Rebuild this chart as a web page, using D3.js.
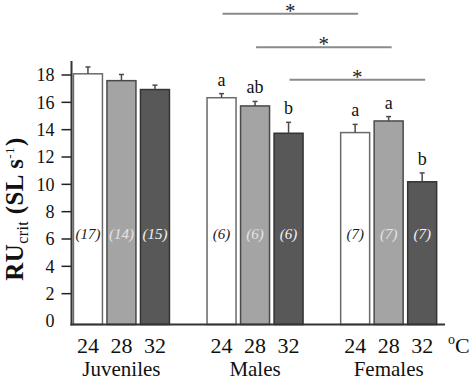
<!DOCTYPE html>
<html>
<head>
<meta charset="utf-8">
<script src="https://cdn.jsdelivr.net/npm/d3@7"></script>
<style>
  html, body { margin: 0; padding: 0; background: #fff; }
  svg { display: block; }
</style>
</head>
<body>
<svg id="chart" width="474" height="381"></svg>
<script>
// ---- data ----
const groups = ["Juveniles", "Males", "Females"];
const temps = ["24", "28", "32"];
const juvenileMeans = [18.05, 17.55, 16.9];
const juvenileErrors = [0.5, 0.45, 0.32];
const maleMeans = [16.3, 15.7, 13.7];
const maleErrors = [0.3, 0.33, 0.8];
const femaleMeans = [13.75, 14.6, 10.15];
const femaleErrors = [0.6, 0.32, 0.65];
const juvenileN = ["(17)", "(14)", "(15)"];
const maleN = ["(6)", "(6)", "(6)"];
const femaleN = ["(7)", "(7)", "(7)"];
const juvenileLetters = ["", "", ""];
const maleLetters = ["a", "ab", "b"];
const femaleLetters = ["a", "a", "b"];
const yTicks = [0, 2, 4, 6, 8, 10, 12, 14, 16, 18];
const sigPairs = [["Males", "Females", "24"], ["Males", "Females", "28"], ["Males", "Females", "32"]];
const sigLabel = "*";
const yTitle = { main: "RU", sub: "crit", rest: " (SL s", sup: "-1", close: ")" };
const unitLabel = { sup: "o", main: "C" };

const FONT = "'Liberation Serif', 'Times New Roman', Times, monospace";

// build rows
const means = [juvenileMeans, maleMeans, femaleMeans];
const errs = [juvenileErrors, maleErrors, femaleErrors];
const ns = [juvenileN, maleN, femaleN];
const letters = [juvenileLetters, maleLetters, femaleLetters];
const rows = [];
groups.forEach((g, gi) => temps.forEach((t, ti) => rows.push({
  group: g, temp: t, ti, mean: means[gi][ti], err: errs[gi][ti], n: ns[gi][ti], letter: letters[gi][ti]
})));

// ---- layout ----
const svg = d3.select("#chart");
const y = d3.scaleLinear().domain([0, 18]).range([320.5, 74.5]);
const baseY = 324.5;
const xGroup = d3.scaleBand().domain(groups).range([72.7, 72.7 + 3 * 133.6]).padding(0);
const xTemp = d3.scaleBand().domain(temps).range([0, 97.5]).paddingInner(0.09).paddingOuter(0);
const fills = d3.scaleOrdinal().domain(temps).range(["#ffffff", "#a4a4a4", "#585858"]);
const strokes = d3.scaleOrdinal().domain(temps).range(["#6a6a6a", "#4a4a4a", "#333333"]);
const nColors = d3.scaleOrdinal().domain(temps).range(["#1a1a1a", "#e4e4e4", "#f4f4f4"]);
const cx = (g, t) => xGroup(g) + xTemp(t) + xTemp.bandwidth() / 2;

// bars
svg.append("g").selectAll("rect").data(rows).join("rect")
  .attr("x", d => xGroup(d.group) + xTemp(d.temp) + 0.75)
  .attr("width", xTemp.bandwidth() - 1.5)
  .attr("y", d => y(d.mean))
  .attr("height", d => baseY - y(d.mean))
  .attr("fill", d => fills(d.temp))
  .attr("stroke", d => strokes(d.temp))
  .attr("stroke-width", 1.5);

// error bars
const eb = svg.append("g").attr("stroke", "#4a4a4a").attr("stroke-width", 1.5);
eb.selectAll("line.v").data(rows).join("line").attr("class", "v")
  .attr("x1", d => cx(d.group, d.temp)).attr("x2", d => cx(d.group, d.temp))
  .attr("y1", d => y(d.mean)).attr("y2", d => y(d.mean + d.err));
eb.selectAll("line.c").data(rows).join("line").attr("class", "c")
  .attr("x1", d => cx(d.group, d.temp) - 2.5).attr("x2", d => cx(d.group, d.temp) + 2.5)
  .attr("y1", d => y(d.mean + d.err)).attr("y2", d => y(d.mean + d.err));

// n labels
svg.append("g").selectAll("text").data(rows).join("text")
  .attr("x", d => cx(d.group, d.temp))
  .attr("y", 238.5)
  .attr("text-anchor", "middle")
  .style("font-family", FONT)
  .style("font-size", "15px")
  .style("font-style", "italic")
  .attr("fill", d => nColors(d.temp))
  .text(d => d.n);

// letters
svg.append("g").selectAll("text").data(rows.filter(d => d.letter)).join("text")
  .attr("x", d => cx(d.group, d.temp))
  .attr("y", d => y(d.mean + d.err) - 8)
  .attr("text-anchor", "middle")
  .style("font-family", FONT)
  .style("font-size", "18px")
  .attr("fill", "#111")
  .text(d => d.letter);

// y axis
const yAxis = d3.axisLeft(y).tickValues(yTicks).tickSize(10).tickPadding(7).tickFormat(d3.format("d"));
const yg = svg.append("g").attr("transform", "translate(71.5,0)").call(yAxis);
yg.select(".domain").remove();
yg.selectAll(".tick line").attr("stroke", "#222").attr("stroke-width", 1.5);
yg.selectAll(".tick text").attr("fill", "#111").attr("dy", "0.35em")
  .style("font-family", FONT).style("font-size", "18px");
yg.selectAll(".tick").filter(d => d === 0).select("line").remove();
svg.append("line").attr("x1", 71.5).attr("x2", 71.5).attr("y1", 61).attr("y2", baseY + 1)
  .attr("stroke", "#333").attr("stroke-width", 2);

// x axis line
svg.append("line").attr("x1", 70.5).attr("x2", 445).attr("y1", baseY).attr("y2", baseY)
  .attr("stroke", "#333").attr("stroke-width", 2);

// x tick labels
svg.append("g").selectAll("text").data(rows).join("text")
  .attr("x", d => cx(d.group, d.temp))
  .attr("y", 352.5)
  .attr("text-anchor", "middle")
  .style("font-family", FONT)
  .style("font-size", "22px")
  .attr("fill", "#111")
  .text(d => d.temp);
svg.append("g").selectAll("text").data(groups).join("text")
  .attr("x", g => cx(g, "28"))
  .attr("y", 376)
  .attr("text-anchor", "middle")
  .style("font-family", FONT)
  .style("font-size", "21px")
  .attr("fill", "#111")
  .text(g => g);

// unit
const ut = svg.append("text").attr("x", 448).attr("y", 352.5)
  .style("font-family", FONT).style("font-size", "22px").attr("fill", "#111");
ut.append("tspan").style("font-size", "14px").attr("dy", -9).text(unitLabel.sup);
ut.append("tspan").attr("dy", 9).text(unitLabel.main);

// significance brackets
const sigLevels = [13.7, 47.3, 79.7];
const sg = svg.append("g");
sigPairs.forEach((p, i) => {
  const x1 = cx(p[0], p[2]) + 1, x2 = cx(p[1], p[2]) + 3;
  sg.append("line").attr("x1", x1).attr("x2", x2).attr("y1", sigLevels[i]).attr("y2", sigLevels[i])
    .attr("stroke", "#8a8a8a").attr("stroke-width", 2);
  sg.append("text").attr("x", (x1 + x2) / 2).attr("y", sigLevels[i] + 4)
    .attr("text-anchor", "middle").style("font-family", FONT)
    .style("font-size", "21px").attr("fill", "#222").text(sigLabel);
});

// y title
const yt = svg.append("text")
  .attr("transform", "translate(23,209) rotate(-90)")
  .attr("text-anchor", "middle")
  .style("font-family", FONT)
  .style("letter-spacing", "0.4px")
  .style("font-size", "25px").style("font-weight", "bold").attr("fill", "#111");
yt.append("tspan").text(yTitle.main);
yt.append("tspan").style("font-size", "16px").style("font-weight", "normal").attr("dy", 5).text(yTitle.sub);
yt.append("tspan").attr("dy", -5).text(yTitle.rest);
yt.append("tspan").style("font-size", "13px").style("font-weight", "normal").attr("dy", -9).text(yTitle.sup);
yt.append("tspan").attr("dx", 1).attr("dy", 9).text(yTitle.close);
</script>
</body>
</html>
